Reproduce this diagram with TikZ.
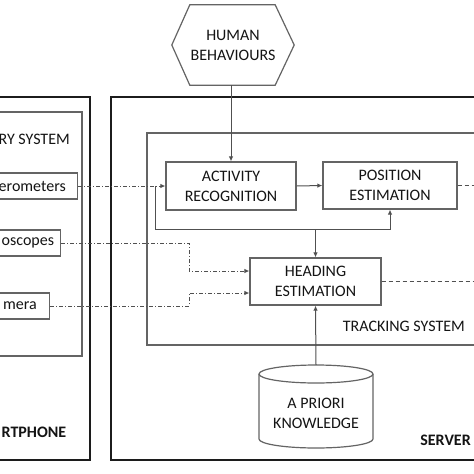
\documentclass[tikz,border=0pt]{standalone}
\usepackage{fontspec}
\setmainfont{Carlito}
\usetikzlibrary{arrows.meta,calc}
\definecolor{txt}{HTML}{141414}
\definecolor{boxg}{HTML}{646464}
\definecolor{cong}{HTML}{505050}
\definecolor{outk}{HTML}{1C1C1C}
\tikzset{
  lbl/.style={text=txt,font=\fontsize{16}{20}\selectfont,align=center},
  frag/.style={lbl,anchor=east,inner sep=0pt},
  blk/.style={lbl,draw=boxg,line width=1.2pt,inner sep=0pt},
  outer/.style={draw=outk,line width=1.9pt},
  inner/.style={draw=boxg,line width=1.4pt},
  conn/.style={draw=cong,line width=1pt},
  arr/.style={conn,-{Latex[length=5pt,width=4.5pt]}},
  dd/.style={dash pattern=on 4pt off 2pt on 1pt off 2pt},
  dsh/.style={conn,dash pattern=on 4pt off 3pt},
  sensbox/.style={draw=boxg,line width=1.2pt,anchor=east,inner sep=0pt,minimum width=110pt,minimum height=26pt}
}
\begin{document}
\begin{tikzpicture}[x=1pt,y=-1pt]
\useasboundingbox (0,0) rectangle (474,474);
\clip (0,0) rectangle (474,474);
\fill[white] (0,0) rectangle (474,474);
% outer boxes
\draw[outer] (-30,97) rectangle (90,460);
\draw[outer] (111,97) rectangle (500,460);
\draw[inner] (-30,112) rectangle (82,356);
\draw[inner] (147,133) rectangle (500,345);
% labels
\node[frag] (sst) at (70,139) {RY SYSTEM};
\node[frag,anchor=west,font=\fontsize{16}{20}\selectfont\bfseries] (sph) at (1.5,432) {RTPHONE};
\node[frag,font=\fontsize{16}{20}\selectfont\bfseries] (srv) at (471,440) {SERVER};
\node[frag] (tst) at (465,326) {TRACKING SYSTEM};
% sensors
\node[sensbox] (acc) at (78,186) {};
\node[sensbox] (gyr) at (61,243) {};
\node[sensbox] (cam) at (50,306) {};
\node[frag] (acct) at (66,186) {erometers};
\node[frag,anchor=west] (gyrt) at (1.5,243) {oscopes};
\node[frag] (camt) at (37,306) {mera};
% hexagon
\node[lbl,minimum width=122pt,minimum height=80pt,inner sep=0pt] (hb) at (233,45) {HUMAN\\BEHAVIOURS};
\draw[draw=boxg,line width=1.2pt] (hb.west) -- ($(hb.north west)+(18,0)$) -- ($(hb.north east)+(-19,0)$) -- (hb.east) -- ($(hb.south east)+(-19,0)$) -- ($(hb.south west)+(18,0)$) -- cycle;
% process blocks
\node[blk,minimum width=130pt,minimum height=48pt] (ar) at (231,186) {ACTIVITY\\RECOGNITION};
\node[blk,minimum width=134pt,minimum height=47pt] (pe) at (390,185.5) {POSITION\\ESTIMATION};
\node[blk,minimum width=131pt,minimum height=47pt] (he) at (315.5,281.5) {HEADING\\ESTIMATION};
% knowledge cylinder
\draw[draw=boxg,line width=1.2pt,fill=white] (259,374) -- (259,439) arc[start angle=180,end angle=360,x radius=57,y radius=-9] -- (373,374);
\draw[draw=boxg,line width=1.2pt] (316,374) ellipse[x radius=57,y radius=9];
\node[lbl,minimum width=114pt,minimum height=96pt,inner sep=0pt] (kb) at (316,413) {A PRIORI\\KNOWLEDGE};
% coordinates
\coordinate (j1) at (155,186);
\coordinate (j2) at (155,229);
\coordinate (g1) at (189,243);
\coordinate (c1) at (189,306);
\coordinate (re) at (480,0);
% connectors
\draw[arr] (ar.north |- hb.south) -- (ar.north);
\draw[arr,dd] (acc.east) -- (ar.west);
\draw[conn] (j1) -- (j2);
\draw[arr] (j2) -| (pe.south);
\draw[arr] (he.north |- j2) -- (he.north);
\draw[arr] (ar.east) -- (pe.west);
\draw[arr,dd] (gyr.east) -- (g1) |- ($(he.west)+(0,-10.5)$);
\draw[arr,dd] (cam.east) -- (c1) |- ($(he.west)+(0,11.5)$);
\draw[arr] (kb.north) -- (he.south);
\draw[dsh] (pe.east) -- (pe.east -| re);
\draw[dsh] (he.east) -- (he.east -| re);
\end{tikzpicture}
\end{document}
